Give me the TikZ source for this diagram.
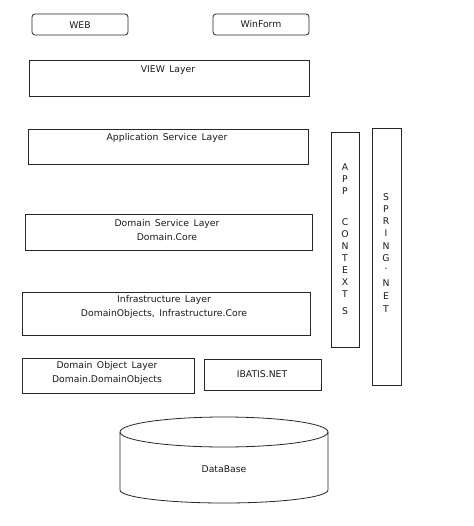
\documentclass[tikz,border=0pt]{standalone}
\usepackage{fontspec}
\setmainfont[WordSpace=1.5]{DejaVu Sans}
\usetikzlibrary{fit}
\begin{document}
\begin{tikzpicture}[x=1bp,y=-1bp,
  box/.style={draw=black!85,line width=0.8bp,inner sep=0pt,rectangle},
  rbox/.style={box,rounded corners=3bp},
  lbl/.style={inner sep=0pt,font=\fontsize{9.3}{14}\selectfont,align=center,text=black!90},
  vch/.style={inner sep=0pt,font=\fontsize{9.3}{10}\selectfont,text=black!90}]
\useasboundingbox (0,0) rectangle (474,526);
% top boxes
\node[rbox,fit={(32,14) (128,35)}] (web) {};
\node[lbl] (webt) at (80,25) {WEB};
\node[rbox,fit={(213,14) (309,35)}] (winform) {};
\node[lbl] (winformt) at (261,24) {WinForm};
% layers
\node[box,fit={(29,60) (309,96)}] (view) {};
\node[lbl] (viewt) at (168,70) {VIEW Layer};
\node[box,fit={(28,129) (308,164)}] (app) {};
\node[lbl] (appt) at (167,138) {Application Service Layer};
\node[box,fit={(25,214) (312,250)}] (dom) {};
\node[lbl] (domt) at (167,230) {Domain Service Layer\\Domain.Core};
\node[box,fit={(22,292) (310,335)}] (infra) {};
\node[lbl] (infrat) at (164,307) {Infrastructure Layer\\DomainObjects, Infrastructure.Core};
\node[box,fit={(22,358) (194,393)}] (dobj) {};
\node[lbl] (dobjt) at (107,373) {Domain Object Layer\\Domain.DomainObjects};
\node[box,fit={(204,359) (321,390)}] (ibatis) {};
\node[lbl] (ibatist) at (262,374) {IBATIS.NET};
% vertical boxes
\node[box,fit={(331,132) (359,347)}] (appctx) {};
\foreach \ch/\yy [count=\i] in {A/167,P/179,P/191,C/222,O/234,N/246,T/258,E/270,X/282,T/294,S/311}
  \node[vch] (ac\i) at (345,\yy) {\ch};
\node[box,fit={(372,128) (401,385)}] (spring) {};
\foreach \ch/\yy [count=\i] in {S/197,P/209,R/221,I/233,N/246,G/258,./269,N/283,E/296,T/309}
  \node[vch] (sp\i) at (386,\yy) {\ch};
% database cylinder
\draw[draw=black!85,line width=0.8bp] (224,432) ellipse [x radius=104bp,y radius=15bp];
\draw[draw=black!85,line width=0.8bp] (120,432) -- (120,490)
  arc[start angle=180,end angle=360,x radius=104bp,y radius=13bp] -- (328,432);
\node[lbl] (db) at (224,469) {DataBase};
\end{tikzpicture}
\end{document}
